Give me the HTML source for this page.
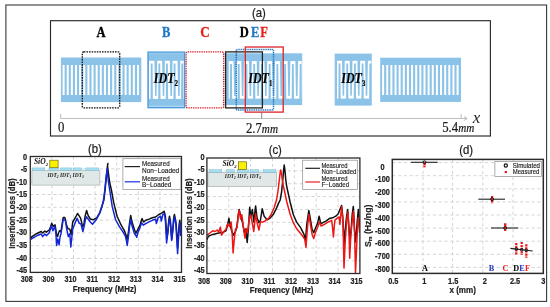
<!DOCTYPE html>
<html lang="en"><head><meta charset="utf-8"><title>Figure</title>
<style>
html,body{margin:0;padding:0;background:#fff;}
body{width:550px;height:307px;overflow:hidden;font-family:"Liberation Sans",sans-serif;}
svg{display:block;filter:blur(0.4px);}
</style></head><body>
<svg width="550" height="307" viewBox="0 0 550 307">
<rect width="550" height="307" fill="#fff"/>
<rect x="5.9" y="5.0" width="540.7" height="296.4" fill="#fff" stroke="#383838" stroke-width="1.1"/>
<text transform="translate(258.9 16.8) scale(0.9 1)" font-family='"Liberation Sans", sans-serif' font-size="12.6" fill="#222" stroke="#222" stroke-width="0.25" text-anchor="middle">(a)</text>
<rect x="50.5" y="20.7" width="439.9" height="115.3" fill="#fff" stroke="#2a2a2a" stroke-width="1.15"/>
<rect x="60.9" y="57.5" width="80.40" height="44.60" fill="#8bc3e8"/>
<path d="M63.60 65.1V94.9M67.73 65.1V94.9M71.87 65.1V94.9M76.00 65.1V94.9M80.13 65.1V94.9M84.27 65.1V94.9M88.40 65.1V94.9M92.53 65.1V94.9M96.67 65.1V94.9M100.80 65.1V94.9M104.93 65.1V94.9M109.07 65.1V94.9M113.20 65.1V94.9M117.33 65.1V94.9M121.47 65.1V94.9M125.60 65.1V94.9M129.73 65.1V94.9M133.87 65.1V94.9M138.00 65.1V94.9" stroke="#fff" stroke-width="2.0" fill="none"/>
<rect x="380.2" y="57.7" width="80.80" height="44.20" fill="#8bc3e8"/>
<path d="M383.10 64.9V94.9M387.24 64.9V94.9M391.38 64.9V94.9M395.52 64.9V94.9M399.66 64.9V94.9M403.79 64.9V94.9M407.93 64.9V94.9M412.07 64.9V94.9M416.21 64.9V94.9M420.35 64.9V94.9M424.49 64.9V94.9M428.63 64.9V94.9M432.77 64.9V94.9M436.91 64.9V94.9M441.04 64.9V94.9M445.18 64.9V94.9M449.32 64.9V94.9M453.46 64.9V94.9M457.60 64.9V94.9" stroke="#fff" stroke-width="2.0" fill="none"/>
<rect x="226" y="53.3" width="76.2" height="51.8" fill="#8bc3e8"/>
<rect x="228.7" y="61.1" width="73.00" height="37.60" fill="#fff"/>
<path d="M229.85 99.2L230.10 63.9H231.90L232.15 99.2ZM237.58 99.2L237.83 63.9H239.63L239.88 99.2ZM245.31 99.2L245.56 63.9H247.36L247.61 99.2ZM253.04 99.2L253.29 63.9H255.09L255.34 99.2ZM260.77 99.2L261.02 63.9H262.82L263.07 99.2ZM268.50 99.2L268.75 63.9H270.55L270.80 99.2ZM276.23 99.2L276.48 63.9H278.28L278.53 99.2ZM283.96 99.2L284.21 63.9H286.01L286.26 99.2ZM291.69 99.2L291.94 63.9H293.74L293.99 99.2ZM299.42 99.2L299.67 63.9H301.47L301.72 99.2ZM233.50 60.6L234.15 95.9H235.65L236.30 60.6ZM241.23 60.6L241.88 95.9H243.38L244.03 60.6ZM248.96 60.6L249.61 95.9H251.11L251.76 60.6ZM256.69 60.6L257.34 95.9H258.84L259.49 60.6ZM264.42 60.6L265.07 95.9H266.57L267.22 60.6ZM272.15 60.6L272.80 95.9H274.30L274.95 60.6ZM279.88 60.6L280.53 95.9H282.03L282.68 60.6ZM287.61 60.6L288.26 95.9H289.76L290.41 60.6ZM295.34 60.6L295.99 95.9H297.49L298.14 60.6Z" fill="#8bc3e8" stroke="none"/>
<rect x="334.7" y="53.6" width="37.1" height="52" fill="#8bc3e8"/>
<rect x="337.0" y="60.8" width="34.20" height="37.80" fill="#fff"/>
<path d="M338.35 99.1L338.60 63.599999999999994H340.40L340.65 99.1ZM346.05 99.1L346.30 63.599999999999994H348.10L348.35 99.1ZM353.75 99.1L354.00 63.599999999999994H355.80L356.05 99.1ZM361.45 99.1L361.70 63.599999999999994H363.50L363.75 99.1ZM369.15 99.1L369.40 63.599999999999994H371.20L371.45 99.1ZM342.00 60.3L342.65 95.8H344.15L344.80 60.3ZM349.70 60.3L350.35 95.8H351.85L352.50 60.3ZM357.40 60.3L358.05 95.8H359.55L360.20 60.3ZM365.10 60.3L365.75 95.8H367.25L367.90 60.3Z" fill="#8bc3e8" stroke="none"/>
<rect x="148.0" y="52.1" width="36.6" height="55.6" fill="#8bc3e8" stroke="#4a98dc" stroke-width="1.3"/>
<rect x="148.7" y="105.7" width="35.2" height="1.3" fill="#a9d7f3"/>
<rect x="148.7" y="52.8" width="35.2" height="0.9" fill="#9dcff0"/>
<rect x="149.0" y="60.8" width="34.70" height="38.10" fill="#fff"/>
<path d="M150.55 99.4L150.80 63.599999999999994H152.60L152.85 99.4ZM158.18 99.4L158.43 63.599999999999994H160.23L160.48 99.4ZM165.81 99.4L166.06 63.599999999999994H167.86L168.11 99.4ZM173.44 99.4L173.69 63.599999999999994H175.49L175.74 99.4ZM181.07 99.4L181.32 63.599999999999994H183.12L183.37 99.4ZM154.40 60.3L155.05 96.10000000000001H156.55L157.20 60.3ZM162.10 60.3L162.75 96.10000000000001H164.25L164.90 60.3ZM169.80 60.3L170.45 96.10000000000001H171.95L172.60 60.3ZM177.50 60.3L178.15 96.10000000000001H179.65L180.30 60.3Z" fill="#8bc3e8" stroke="none"/>
<rect x="82.3" y="51.8" width="37.4" height="56.1" fill="none" stroke="#111" stroke-width="1.3" stroke-dasharray="1.6 1.0" rx="1.5"/>
<rect x="186.1" y="51.9" width="37.6" height="56" fill="none" stroke="#d8222a" stroke-width="1.35" stroke-dasharray="1.4 0.9" rx="1.5"/>
<rect x="236.3" y="49.5" width="37.2" height="60.5" fill="none" stroke="#1c73be" stroke-width="1.5" stroke-dasharray="1.1 0.7" rx="1.2"/>
<rect x="225.6" y="51.9" width="36.8" height="56" fill="none" stroke="#222" stroke-width="1.3"/>
<rect x="245.3" y="47" width="37.9" height="65.1" fill="none" stroke="#dc2228" stroke-width="1.3"/>
<text transform="translate(101.0 36.8) scale(0.86 1)" font-family='"Liberation Serif", serif' font-size="14.6" font-weight="bold" fill="#000" stroke="#000" stroke-width="0.3" text-anchor="middle">A</text>
<text transform="translate(166.3 36.8) scale(0.86 1)" font-family='"Liberation Serif", serif' font-size="14.6" font-weight="bold" fill="#1f78c4" stroke="#1f78c4" stroke-width="0.3" text-anchor="middle">B</text>
<text transform="translate(205.0 36.8) scale(0.9 1)" font-family='"Liberation Serif", serif' font-size="14.6" font-weight="bold" fill="#e3211c" stroke="#e3211c" stroke-width="0.3" text-anchor="middle">C</text>
<text transform="translate(244.3 36.8) scale(0.86 1)" font-family='"Liberation Serif", serif' font-size="14.6" font-weight="bold" fill="#000" stroke="#000" stroke-width="0.3" text-anchor="middle">D</text>
<text transform="translate(255.2 36.8) scale(0.86 1)" font-family='"Liberation Serif", serif' font-size="14.6" font-weight="bold" fill="#1f78c4" stroke="#1f78c4" stroke-width="0.3" text-anchor="middle">E</text>
<text transform="translate(264.0 36.8) scale(0.86 1)" font-family='"Liberation Serif", serif' font-size="14.6" font-weight="bold" fill="#e3211c" stroke="#e3211c" stroke-width="0.3" text-anchor="middle">F</text>
<text transform="translate(153.8 83.2) scale(0.86 1)" font-family='"Liberation Serif", serif' font-size="14" font-weight="bold" font-style="italic" fill="#000" stroke="#000" stroke-width="0.2">IDT<tspan font-size="8" font-style="normal" dy="3.2">2</tspan></text>
<text transform="translate(248.2 83.0) scale(0.86 1)" font-family='"Liberation Serif", serif' font-size="14" font-weight="bold" font-style="italic" fill="#000" stroke="#000" stroke-width="0.2">IDT<tspan font-size="8" font-style="normal" dy="3.2">1</tspan></text>
<text transform="translate(341.2 83.2) scale(0.86 1)" font-family='"Liberation Serif", serif' font-size="14" font-weight="bold" font-style="italic" fill="#000" stroke="#000" stroke-width="0.2">IDT<tspan font-size="8" font-style="normal" dy="3.2">3</tspan></text>
<path d="M60.6 113.9V118.5H467 M461.2 114.2V118.5 M464 116.5L467.2 118.5L464 120.5" stroke="#b8b8b8" stroke-width="0.9" fill="none"/>
<path d="M261.7 112.6V118.5" stroke="#777" stroke-width="0.9" fill="none"/>
<text transform="translate(58.0 131.6) scale(0.9 1)" font-family='"Liberation Serif", serif' font-size="14.2" fill="#1c1c1c" stroke="#1c1c1c" stroke-width="0.22">0</text>
<text transform="translate(245.9 132.6) scale(0.9 1)" font-family='"Liberation Serif", serif' font-size="14.2" fill="#1c1c1c" stroke="#1c1c1c" stroke-width="0.22">2.7<tspan font-style="italic" font-size="12.4">mm</tspan></text>
<text transform="translate(442.2 132.4) scale(0.9 1)" font-family='"Liberation Serif", serif' font-size="14.2" fill="#1c1c1c" stroke="#1c1c1c" stroke-width="0.22">5.4<tspan font-style="italic" font-size="12.4">mm</tspan></text>
<text x="472.7" y="122.5" font-family='"Liberation Serif", serif' font-size="17" font-weight="normal" font-style="italic" fill="#222" text-anchor="start" >x</text>
<rect x="30.3" y="156.5" width="151.20" height="115.90" fill="#fff"/>
<path d="M51.90 156.5V272.4M73.50 156.5V272.4M95.10 156.5V272.4M116.70 156.5V272.4M138.30 156.5V272.4M159.90 156.5V272.4M30.3 168.90H181.5M30.3 181.70H181.5M30.3 194.50H181.5M30.3 207.30H181.5M30.3 220.10H181.5M30.3 232.90H181.5M30.3 245.70H181.5M30.3 258.50H181.5" stroke="#c9c9c9" stroke-width="0.8" stroke-dasharray="3.1 2.7" fill="none"/>
<g clip-path="url(#clipb)"><path d="M30.2 238.4 L32.0 236.6 L35.3 234.4 L38.0 233.0 L41.2 231.5 L42.7 233.0 L44.8 231.0 L46.3 232.2 L49.2 230.0 L50.5 227.0 L51.7 223.2 L53.2 226.4 L55.1 224.9 L56.6 235.2 L57.6 236.5 L58.5 233.0 L59.5 230.8 L61.0 231.5 L62.0 225.0 L63.2 217.6 L64.9 217.6 L66.4 224.9 L67.9 228.6 L69.8 229.3 L71.2 234.5 L72.0 228.0 L72.7 222.0 L74.9 218.3 L76.2 216.0 L77.5 213.5 L79.3 216.1 L80.7 218.3 L82.5 226.4 L83.8 225.0 L85.1 216.1 L86.6 210.5 L88.1 215.4 L90.3 219.0 L93.2 219.8 L96.9 217.6 L99.8 212.5 L102.0 205.9 L103.9 200.0 L105.3 188.0 L106.6 174.0 L107.6 165.0 L107.9 163.6 L107.5 166.0 L108.5 174.0 L109.8 183.0 L111.4 190.0 L113.8 203.1 L117.1 216.2 L121.2 225.2 L124.5 230.9 L126.0 235.0 L126.9 239.7 L127.8 236.0 L128.6 230.9 L129.7 222.0 L130.7 215.4 L131.4 219.0 L132.3 222.7 L134.3 229.3 L135.9 233.2 L137.0 231.0 L137.9 229.3 L140.0 225.2 L141.2 221.0 L142.1 218.6 L143.0 221.0 L143.8 221.9 L145.7 220.3 L149.0 219.1 L152.3 217.8 L155.6 217.0 L158.8 214.5 L162.1 212.9 L164.1 211.3 L165.4 216.2 L166.4 230.0 L167.0 238.5 L167.9 232.0 L168.8 220.0 L169.5 216.2 L170.6 222.7 L171.4 234.0 L171.9 239.0 L172.8 230.0 L173.7 218.0 L174.4 214.5 L176.0 222.7 L177.0 236.0 L177.6 248.0 L178.4 236.0 L179.2 224.0 L179.8 220.3 L180.8 232.0" stroke="#111" stroke-width="1.5" fill="none" stroke-linejoin="round"/></g>
<g clip-path="url(#clipb)"><path d="M30.2 239.9 L32.0 238.5 L35.3 236.6 L38.0 235.2 L41.2 234.0 L42.7 236.6 L44.8 234.0 L46.3 235.6 L49.2 233.0 L50.4 229.0 L51.4 225.6 L52.9 230.8 L54.8 226.4 L55.8 232.0 L56.6 245.5 L57.8 239.0 L59.1 244.8 L60.0 237.0 L61.0 233.7 L62.2 226.0 L63.2 219.0 L65.4 220.5 L66.8 229.3 L68.3 236.6 L69.8 233.7 L70.8 247.0 L71.8 238.0 L72.7 229.3 L74.9 223.4 L77.1 218.3 L79.3 223.4 L81.0 224.0 L82.9 231.5 L84.2 226.0 L85.3 220.0 L86.6 216.8 L88.1 219.0 L90.3 222.0 L92.5 224.2 L96.1 219.8 L99.8 213.2 L102.0 206.6 L103.5 200.0 L104.8 190.0 L106.0 178.0 L107.0 170.0 L107.4 168.7 L107.1 171.0 L108.0 178.0 L108.9 185.0 L109.7 190.0 L112.2 206.4 L115.5 219.5 L119.5 226.8 L122.8 231.7 L125.5 236.5 L126.5 241.0 L127.2 245.5 L128.0 240.0 L129.4 227.6 L130.7 219.5 L132.3 226.8 L134.3 233.4 L136.2 236.0 L136.7 237.3 L137.9 232.6 L140.0 227.6 L141.6 222.7 L143.3 225.2 L145.7 223.6 L149.0 221.9 L152.3 220.3 L155.6 219.1 L156.4 223.6 L158.0 217.8 L160.5 216.2 L161.3 221.1 L162.9 214.5 L164.6 213.7 L165.5 222.0 L166.2 236.0 L166.6 243.0 L167.5 235.0 L168.8 222.0 L169.8 218.6 L170.7 228.0 L171.6 240.5 L172.6 232.0 L173.8 220.0 L174.7 217.0 L176.0 226.0 L177.0 243.0 L177.6 253.6 L178.4 240.0 L179.3 226.0 L180.0 222.7 L180.8 236.0" stroke="#1226d8" stroke-width="1.5" fill="none" stroke-linejoin="round"/></g>
<clipPath id="clipb"><rect x="30.3" y="156.5" width="151.20" height="115.90"/></clipPath>
<rect x="31.9" y="170.7" width="68.00" height="14.40" fill="#dfe8e6" stroke="#9aa5a3" stroke-width="0.6"/>
<rect x="32.3" y="167.9" width="12.50" height="2.80" fill="#a6ddf0" stroke="#6fb3cf" stroke-width="0.4"/>
<rect x="49.2" y="167.9" width="9.30" height="2.80" fill="#a6ddf0" stroke="#6fb3cf" stroke-width="0.4"/>
<rect x="60.5" y="167.9" width="11.10" height="2.80" fill="#a6ddf0" stroke="#6fb3cf" stroke-width="0.4"/>
<rect x="73.3" y="167.9" width="8.40" height="2.80" fill="#a6ddf0" stroke="#6fb3cf" stroke-width="0.4"/>
<rect x="85.8" y="167.9" width="13.10" height="2.80" fill="#a6ddf0" stroke="#6fb3cf" stroke-width="0.4"/>
<rect x="49.8" y="160.2" width="8.30" height="7.50" fill="#fbf000" stroke="#6d6a12" stroke-width="0.7"/>
<text x="33.9" y="164.4" font-family='"Liberation Serif", serif' font-size="7.6" font-weight="bold" font-style="italic" fill="#111">SiO<tspan font-size="4.6" dy="1.4">2</tspan></text>
<text x="47.4" y="176.5" font-family='"Liberation Serif", serif' font-size="5.6" font-weight="bold" font-style="italic" fill="#222" textLength="36.4" lengthAdjust="spacingAndGlyphs">IDT<tspan font-size="3.6" dy="1">2</tspan><tspan dy="-1"> IDT</tspan><tspan font-size="3.6" dy="1">1</tspan><tspan dy="-1"> IDT</tspan><tspan font-size="3.6" dy="1">3</tspan></text>
<rect x="122.9" y="158.7" width="58.10" height="30.80" fill="#fff" stroke="#8a8a8a" stroke-width="0.7"/>
<path d="M124.7 166.6H140" stroke="#222" stroke-width="1.2"/>
<path d="M124.7 181.8H140" stroke="#1a2fe0" stroke-width="1.2"/>
<text x="142.0" y="166.3" font-family='"Liberation Sans", sans-serif' font-size="6.6" font-weight="normal" font-style="normal" fill="#222" text-anchor="start" textLength="27.6" lengthAdjust="spacingAndGlyphs" stroke="#222" stroke-width="0.15">Measured</text>
<text x="142.0" y="172.9" font-family='"Liberation Sans", sans-serif' font-size="6.6" font-weight="normal" font-style="normal" fill="#222" text-anchor="start" textLength="37.2" lengthAdjust="spacingAndGlyphs" stroke="#222" stroke-width="0.15">Non−Loaded</text>
<text x="142.0" y="180.5" font-family='"Liberation Sans", sans-serif' font-size="6.6" font-weight="normal" font-style="normal" fill="#222" text-anchor="start" textLength="27.6" lengthAdjust="spacingAndGlyphs" stroke="#222" stroke-width="0.15">Measured</text>
<text x="142.0" y="187.3" font-family='"Liberation Sans", sans-serif' font-size="6.6" font-weight="normal" font-style="normal" fill="#222" text-anchor="start" textLength="29.4" lengthAdjust="spacingAndGlyphs" stroke="#222" stroke-width="0.15">B−Loaded</text>
<rect x="30.3" y="156.5" width="151.20" height="115.90" fill="none" stroke="#2b2b2b" stroke-width="1.3"/>
<text transform="translate(27.2 160.20) scale(0.9 1)" font-family='"Liberation Sans", sans-serif' font-size="8.2" font-weight="bold" fill="#222" stroke="#222" stroke-width="0.2" text-anchor="end">0</text>
<text transform="translate(27.2 172.04) scale(0.9 1)" font-family='"Liberation Sans", sans-serif' font-size="8.2" font-weight="bold" fill="#222" stroke="#222" stroke-width="0.2" text-anchor="end">-5</text>
<text transform="translate(27.2 184.68) scale(0.9 1)" font-family='"Liberation Sans", sans-serif' font-size="8.2" font-weight="bold" fill="#222" stroke="#222" stroke-width="0.2" text-anchor="end">-10</text>
<text transform="translate(27.2 197.32) scale(0.9 1)" font-family='"Liberation Sans", sans-serif' font-size="8.2" font-weight="bold" fill="#222" stroke="#222" stroke-width="0.2" text-anchor="end">-15</text>
<text transform="translate(27.2 209.96) scale(0.9 1)" font-family='"Liberation Sans", sans-serif' font-size="8.2" font-weight="bold" fill="#222" stroke="#222" stroke-width="0.2" text-anchor="end">-20</text>
<text transform="translate(27.2 222.60) scale(0.9 1)" font-family='"Liberation Sans", sans-serif' font-size="8.2" font-weight="bold" fill="#222" stroke="#222" stroke-width="0.2" text-anchor="end">-25</text>
<text transform="translate(27.2 235.24) scale(0.9 1)" font-family='"Liberation Sans", sans-serif' font-size="8.2" font-weight="bold" fill="#222" stroke="#222" stroke-width="0.2" text-anchor="end">-30</text>
<text transform="translate(27.2 247.88) scale(0.9 1)" font-family='"Liberation Sans", sans-serif' font-size="8.2" font-weight="bold" fill="#222" stroke="#222" stroke-width="0.2" text-anchor="end">-35</text>
<text transform="translate(27.2 260.52) scale(0.9 1)" font-family='"Liberation Sans", sans-serif' font-size="8.2" font-weight="bold" fill="#222" stroke="#222" stroke-width="0.2" text-anchor="end">-40</text>
<text transform="translate(27.2 273.16) scale(0.9 1)" font-family='"Liberation Sans", sans-serif' font-size="8.2" font-weight="bold" fill="#222" stroke="#222" stroke-width="0.2" text-anchor="end">-45</text>
<text transform="translate(26.8 282.3) scale(0.88 1)" font-family='"Liberation Sans", sans-serif' font-size="8.2" font-weight="bold" fill="#222" stroke="#222" stroke-width="0.2" text-anchor="middle">308</text>
<text transform="translate(48.6 282.3) scale(0.88 1)" font-family='"Liberation Sans", sans-serif' font-size="8.2" font-weight="bold" fill="#222" stroke="#222" stroke-width="0.2" text-anchor="middle">309</text>
<text transform="translate(70.4 282.3) scale(0.88 1)" font-family='"Liberation Sans", sans-serif' font-size="8.2" font-weight="bold" fill="#222" stroke="#222" stroke-width="0.2" text-anchor="middle">310</text>
<text transform="translate(92.2 282.3) scale(0.88 1)" font-family='"Liberation Sans", sans-serif' font-size="8.2" font-weight="bold" fill="#222" stroke="#222" stroke-width="0.2" text-anchor="middle">311</text>
<text transform="translate(114.0 282.3) scale(0.88 1)" font-family='"Liberation Sans", sans-serif' font-size="8.2" font-weight="bold" fill="#222" stroke="#222" stroke-width="0.2" text-anchor="middle">312</text>
<text transform="translate(135.8 282.3) scale(0.88 1)" font-family='"Liberation Sans", sans-serif' font-size="8.2" font-weight="bold" fill="#222" stroke="#222" stroke-width="0.2" text-anchor="middle">313</text>
<text transform="translate(157.6 282.3) scale(0.88 1)" font-family='"Liberation Sans", sans-serif' font-size="8.2" font-weight="bold" fill="#222" stroke="#222" stroke-width="0.2" text-anchor="middle">314</text>
<text transform="translate(179.4 282.3) scale(0.88 1)" font-family='"Liberation Sans", sans-serif' font-size="8.2" font-weight="bold" fill="#222" stroke="#222" stroke-width="0.2" text-anchor="middle">315</text>
<text x="72.7" y="292.0" font-family='"Liberation Sans", sans-serif' font-size="8.8" font-weight="bold" font-style="normal" fill="#222" text-anchor="start" textLength="63.8" lengthAdjust="spacingAndGlyphs" stroke="#222" stroke-width="0.2">Frequency (MHz)</text>
<text transform="translate(14.9 248.8) rotate(-90)" font-family='"Liberation Sans", sans-serif' font-size="8.8" font-weight="bold" fill="#222" stroke="#222" stroke-width="0.2" textLength="70.4" lengthAdjust="spacingAndGlyphs">Insertion Loss (dB)</text>
<text transform="translate(94.9 153.2) scale(0.9 1)" font-family='"Liberation Sans", sans-serif' font-size="12.6" fill="#222" stroke="#222" stroke-width="0.25" text-anchor="middle">(b)</text>
<rect x="206.9" y="158.0" width="153.00" height="115.50" fill="#fff"/>
<path d="M228.76 158.0V273.5M250.61 158.0V273.5M272.47 158.0V273.5M294.33 158.0V273.5M316.19 158.0V273.5M338.04 158.0V273.5M206.9 170.86H359.9M206.9 183.72H359.9M206.9 196.58H359.9M206.9 209.44H359.9M206.9 222.30H359.9M206.9 235.16H359.9M206.9 248.02H359.9M206.9 260.88H359.9" stroke="#c9c9c9" stroke-width="0.8" stroke-dasharray="3.1 2.7" fill="none"/>
<g clip-path="url(#clipc)"><path d="M206.9 239.6 L208.0 237.0 L209.1 235.9 L212.8 234.4 L218.7 233.0 L223.0 232.2 L226.0 230.8 L227.6 225.0 L228.9 218.3 L230.4 226.4 L231.8 231.0 L233.3 235.2 L235.5 231.5 L237.0 226.0 L238.2 215.0 L239.2 209.5 L240.9 217.6 L242.4 222.0 L244.3 232.2 L245.8 229.0 L247.2 242.5 L248.4 229.0 L249.7 207.3 L250.9 216.1 L252.4 209.5 L253.8 222.0 L255.6 205.9 L257.0 217.6 L258.9 222.7 L260.4 220.5 L262.2 208.8 L264.1 216.1 L267.0 219.8 L269.9 218.3 L273.6 213.9 L276.5 208.1 L278.7 202.9 L280.2 200.0 L281.6 192.0 L282.8 180.0 L283.7 169.0 L284.2 165.0 L284.8 169.0 L285.8 180.0 L286.6 186.0 L287.5 190.0 L290.0 201.5 L293.3 214.5 L296.5 221.9 L300.6 227.6 L303.9 234.2 L305.5 240.3 L306.7 225.2 L308.8 210.5 L310.0 217.0 L312.1 229.3 L313.7 232.8 L315.4 228.2 L317.5 223.6 L319.1 216.2 L320.8 223.6 L322.8 222.7 L326.0 221.1 L329.3 218.6 L332.6 217.8 L335.8 216.2 L338.3 213.7 L339.9 209.6 L341.6 205.5 L342.7 216.0 L343.5 232.0 L344.0 245.0 L345.0 232.0 L346.4 218.0 L347.6 209.6 L349.2 231.0 L350.2 240.0 L351.2 228.0 L352.2 214.5 L353.3 206.4 L354.6 231.0 L355.5 242.0 L356.4 232.0 L357.1 222.7 L358.3 209.6 L359.6 226.0" stroke="#111" stroke-width="1.5" fill="none" stroke-linejoin="round"/></g>
<g clip-path="url(#clipc)"><path d="M206.9 235.2 L209.9 233.0 L212.8 230.8 L215.0 231.5 L217.2 230.0 L218.7 232.2 L220.4 227.1 L221.6 235.2 L223.8 231.5 L226.0 229.3 L227.4 224.2 L229.6 226.4 L231.1 222.0 L232.1 232.0 L233.1 253.0 L234.2 240.0 L235.5 229.3 L237.0 227.8 L238.2 216.0 L239.2 210.3 L240.6 219.0 L241.8 214.7 L243.3 226.4 L245.0 238.1 L246.2 228.6 L247.7 232.2 L249.1 219.0 L250.6 214.7 L252.1 222.0 L253.8 231.5 L255.6 213.9 L257.0 222.0 L258.9 230.0 L260.4 222.0 L262.6 222.0 L264.8 221.2 L268.5 218.3 L271.4 213.9 L274.3 207.3 L276.5 200.0 L278.0 191.0 L279.3 180.0 L280.3 171.5 L280.7 170.0 L281.3 172.5 L282.3 180.0 L283.3 186.0 L284.3 190.0 L286.7 201.5 L290.0 213.7 L293.3 222.7 L296.5 228.5 L300.6 233.4 L304.7 239.0 L306.0 247.3 L307.2 230.9 L308.8 214.5 L310.4 224.4 L312.1 234.2 L313.7 238.6 L315.4 232.6 L317.8 226.8 L319.5 221.9 L321.1 226.0 L324.4 224.4 L328.5 221.9 L331.7 220.3 L332.6 228.0 L333.4 237.0 L334.3 226.0 L334.9 220.3 L336.6 218.6 L339.1 217.0 L339.9 224.4 L341.6 206.4 L343.0 222.7 L344.0 268.1 L345.3 240.0 L346.8 219.5 L348.1 212.1 L349.0 232.6 L349.7 258.3 L350.8 236.0 L352.5 217.8 L353.5 211.3 L354.6 232.6 L355.5 273.0 L356.5 250.0 L357.4 227.6 L358.3 217.8 L359.6 233.0" stroke="#ee1515" stroke-width="1.5" fill="none" stroke-linejoin="round"/></g>
<clipPath id="clipc"><rect x="206.9" y="158.0" width="153.00" height="115.50"/></clipPath>
<rect x="207.9" y="172.3" width="68.60" height="14.10" fill="#dfe8e6" stroke="#9aa5a3" stroke-width="0.6"/>
<rect x="209.7" y="169.7" width="12.10" height="2.60" fill="#a6ddf0" stroke="#6fb3cf" stroke-width="0.4"/>
<rect x="226.8" y="169.7" width="7.70" height="2.60" fill="#a6ddf0" stroke="#6fb3cf" stroke-width="0.4"/>
<rect x="237.5" y="169.7" width="11.10" height="2.60" fill="#a6ddf0" stroke="#6fb3cf" stroke-width="0.4"/>
<rect x="250.6" y="169.7" width="8.10" height="2.60" fill="#a6ddf0" stroke="#6fb3cf" stroke-width="0.4"/>
<rect x="263.1" y="169.7" width="12.80" height="2.60" fill="#a6ddf0" stroke="#6fb3cf" stroke-width="0.4"/>
<rect x="238.5" y="161.8" width="8.10" height="7.70" fill="#fbf000" stroke="#6d6a12" stroke-width="0.7"/>
<text x="222.4" y="166.3" font-family='"Liberation Serif", serif' font-size="7.6" font-weight="bold" font-style="italic" fill="#111">SiO<tspan font-size="4.6" dy="1.4">2</tspan></text>
<text x="224.8" y="178.0" font-family='"Liberation Serif", serif' font-size="5.6" font-weight="bold" font-style="italic" fill="#222" textLength="35.9" lengthAdjust="spacingAndGlyphs">IDT<tspan font-size="3.6" dy="1">2</tspan><tspan dy="-1"> IDT</tspan><tspan font-size="3.6" dy="1">1</tspan><tspan dy="-1"> IDT</tspan><tspan font-size="3.6" dy="1">3</tspan></text>
<rect x="302.7" y="160.2" width="54.60" height="29.30" fill="#fff" stroke="#8a8a8a" stroke-width="0.7"/>
<path d="M305.3 168.3H320" stroke="#222" stroke-width="1.2"/>
<path d="M305.3 182.0H320" stroke="#f02020" stroke-width="1.2"/>
<text x="321.5" y="167.7" font-family='"Liberation Sans", sans-serif' font-size="6.6" font-weight="normal" font-style="normal" fill="#222" text-anchor="start" textLength="26.0" lengthAdjust="spacingAndGlyphs" stroke="#222" stroke-width="0.15">Measured</text>
<text x="321.5" y="173.9" font-family='"Liberation Sans", sans-serif' font-size="6.6" font-weight="normal" font-style="normal" fill="#222" text-anchor="start" textLength="35.0" lengthAdjust="spacingAndGlyphs" stroke="#222" stroke-width="0.15">Non−Loaded</text>
<text x="321.5" y="180.6" font-family='"Liberation Sans", sans-serif' font-size="6.6" font-weight="normal" font-style="normal" fill="#222" text-anchor="start" textLength="26.0" lengthAdjust="spacingAndGlyphs" stroke="#222" stroke-width="0.15">Measured</text>
<text x="321.5" y="187.0" font-family='"Liberation Sans", sans-serif' font-size="6.6" font-weight="normal" font-style="normal" fill="#222" text-anchor="start" textLength="27.6" lengthAdjust="spacingAndGlyphs" stroke="#222" stroke-width="0.15">F−Loaded</text>
<rect x="206.9" y="158.0" width="153.00" height="115.50" fill="none" stroke="#2b2b2b" stroke-width="1.3"/>
<text transform="translate(204.6 160.20) scale(0.9 1)" font-family='"Liberation Sans", sans-serif' font-size="8.2" font-weight="bold" fill="#222" stroke="#222" stroke-width="0.2" text-anchor="end">0</text>
<text transform="translate(204.6 172.04) scale(0.9 1)" font-family='"Liberation Sans", sans-serif' font-size="8.2" font-weight="bold" fill="#222" stroke="#222" stroke-width="0.2" text-anchor="end">-5</text>
<text transform="translate(204.6 184.68) scale(0.9 1)" font-family='"Liberation Sans", sans-serif' font-size="8.2" font-weight="bold" fill="#222" stroke="#222" stroke-width="0.2" text-anchor="end">-10</text>
<text transform="translate(204.6 197.32) scale(0.9 1)" font-family='"Liberation Sans", sans-serif' font-size="8.2" font-weight="bold" fill="#222" stroke="#222" stroke-width="0.2" text-anchor="end">-15</text>
<text transform="translate(204.6 209.96) scale(0.9 1)" font-family='"Liberation Sans", sans-serif' font-size="8.2" font-weight="bold" fill="#222" stroke="#222" stroke-width="0.2" text-anchor="end">-20</text>
<text transform="translate(204.6 222.60) scale(0.9 1)" font-family='"Liberation Sans", sans-serif' font-size="8.2" font-weight="bold" fill="#222" stroke="#222" stroke-width="0.2" text-anchor="end">-25</text>
<text transform="translate(204.6 235.24) scale(0.9 1)" font-family='"Liberation Sans", sans-serif' font-size="8.2" font-weight="bold" fill="#222" stroke="#222" stroke-width="0.2" text-anchor="end">-30</text>
<text transform="translate(204.6 247.88) scale(0.9 1)" font-family='"Liberation Sans", sans-serif' font-size="8.2" font-weight="bold" fill="#222" stroke="#222" stroke-width="0.2" text-anchor="end">-35</text>
<text transform="translate(204.6 260.52) scale(0.9 1)" font-family='"Liberation Sans", sans-serif' font-size="8.2" font-weight="bold" fill="#222" stroke="#222" stroke-width="0.2" text-anchor="end">-40</text>
<text transform="translate(204.6 273.16) scale(0.9 1)" font-family='"Liberation Sans", sans-serif' font-size="8.2" font-weight="bold" fill="#222" stroke="#222" stroke-width="0.2" text-anchor="end">-45</text>
<text transform="translate(204.1 283.7) scale(0.88 1)" font-family='"Liberation Sans", sans-serif' font-size="8.2" font-weight="bold" fill="#222" stroke="#222" stroke-width="0.2" text-anchor="middle">308</text>
<text transform="translate(225.8 283.7) scale(0.88 1)" font-family='"Liberation Sans", sans-serif' font-size="8.2" font-weight="bold" fill="#222" stroke="#222" stroke-width="0.2" text-anchor="middle">309</text>
<text transform="translate(247.6 283.7) scale(0.88 1)" font-family='"Liberation Sans", sans-serif' font-size="8.2" font-weight="bold" fill="#222" stroke="#222" stroke-width="0.2" text-anchor="middle">310</text>
<text transform="translate(269.4 283.7) scale(0.88 1)" font-family='"Liberation Sans", sans-serif' font-size="8.2" font-weight="bold" fill="#222" stroke="#222" stroke-width="0.2" text-anchor="middle">311</text>
<text transform="translate(291.1 283.7) scale(0.88 1)" font-family='"Liberation Sans", sans-serif' font-size="8.2" font-weight="bold" fill="#222" stroke="#222" stroke-width="0.2" text-anchor="middle">312</text>
<text transform="translate(312.9 283.7) scale(0.88 1)" font-family='"Liberation Sans", sans-serif' font-size="8.2" font-weight="bold" fill="#222" stroke="#222" stroke-width="0.2" text-anchor="middle">313</text>
<text transform="translate(334.6 283.7) scale(0.88 1)" font-family='"Liberation Sans", sans-serif' font-size="8.2" font-weight="bold" fill="#222" stroke="#222" stroke-width="0.2" text-anchor="middle">314</text>
<text transform="translate(356.4 283.7) scale(0.88 1)" font-family='"Liberation Sans", sans-serif' font-size="8.2" font-weight="bold" fill="#222" stroke="#222" stroke-width="0.2" text-anchor="middle">315</text>
<text x="249.7" y="293.4" font-family='"Liberation Sans", sans-serif' font-size="8.8" font-weight="bold" font-style="normal" fill="#222" text-anchor="start" textLength="63.8" lengthAdjust="spacingAndGlyphs" stroke="#222" stroke-width="0.2">Frequency (MHz)</text>
<text transform="translate(192.2 248.8) rotate(-90)" font-family='"Liberation Sans", sans-serif' font-size="8.8" font-weight="bold" fill="#222" stroke="#222" stroke-width="0.2" textLength="70.4" lengthAdjust="spacingAndGlyphs">Insertion Loss (dB)</text>
<text transform="translate(275.3 154.0) scale(0.9 1)" font-family='"Liberation Sans", sans-serif' font-size="12.6" fill="#222" stroke="#222" stroke-width="0.25" text-anchor="middle">(c)</text>
<rect x="392.3" y="159.4" width="151.00" height="114.00" fill="#fff"/>
<path d="M423 159.4V273.4M452.6 159.4V273.4M482.8 159.4V273.4M513 159.4V273.4M392.3 162.60H543.3M392.3 175.70H543.3M392.3 188.80H543.3M392.3 201.90H543.3M392.3 215.00H543.3M392.3 228.10H543.3M392.3 241.20H543.3M392.3 254.30H543.3M392.3 267.40H543.3" stroke="#c9c9c9" stroke-width="0.8" stroke-dasharray="3.1 2.7" fill="none"/>
<rect x="494.9" y="161.4" width="46.4" height="15.1" fill="#fff" stroke="#8a8a8a" stroke-width="0.7"/>
<circle cx="505.8" cy="165.5" r="1.6" fill="none" stroke="#111" stroke-width="1.2"/>
<rect x="504.7" y="171.0" width="2.2" height="2.2" fill="#f01818"/>
<text x="512.8" y="167.6" font-family='"Liberation Sans", sans-serif' font-size="6.6" font-weight="normal" font-style="normal" fill="#222" text-anchor="start" textLength="27.2" lengthAdjust="spacingAndGlyphs" stroke="#222" stroke-width="0.15">Simulated</text>
<text x="512.8" y="174.2" font-family='"Liberation Sans", sans-serif' font-size="6.6" font-weight="normal" font-style="normal" fill="#222" text-anchor="start" textLength="26.6" lengthAdjust="spacingAndGlyphs" stroke="#222" stroke-width="0.15">Measured</text>
<path d="M410.9 162.3L437.7 162.3" stroke="#222" stroke-width="1.1"/>
<path d="M424.5 162.3V167.2" stroke="#f01818" stroke-width="2.3" stroke-dasharray="2.6 0.6"/>
<circle cx="424.5" cy="162.3" r="1.5" fill="none" stroke="#111" stroke-width="0.9"/>
<path d="M478.3 199.2L505 199.2" stroke="#222" stroke-width="1.1"/>
<path d="M492.1 196.1V203.2" stroke="#f01818" stroke-width="2.3" stroke-dasharray="2.6 0.6"/>
<circle cx="492.1" cy="199.2" r="1.5" fill="none" stroke="#111" stroke-width="0.9"/>
<path d="M491.1 228.0L518.3 228.0" stroke="#222" stroke-width="1.1"/>
<path d="M505.2 223.3V231.0" stroke="#f01818" stroke-width="2.3" stroke-dasharray="2.6 0.6"/>
<circle cx="505.2" cy="228.0" r="1.5" fill="none" stroke="#111" stroke-width="0.9"/>
<path d="M516.3 243.0V254.4" stroke="#f01818" stroke-width="2.3" stroke-dasharray="2.2 0.9"/>
<path d="M521.7 241.9V255.0" stroke="#f01818" stroke-width="2.3" stroke-dasharray="2.2 0.9"/>
<path d="M526.3 244.2V257.8" stroke="#f01818" stroke-width="2.3" stroke-dasharray="2.2 0.9"/>
<path d="M510.4 248.3L532.7 251.0" stroke="#222" stroke-width="1.2"/>
<circle cx="516.3" cy="249.0" r="1.3" fill="none" stroke="#111" stroke-width="0.9"/>
<circle cx="521.7" cy="249.7" r="1.3" fill="none" stroke="#111" stroke-width="0.9"/>
<circle cx="526.3" cy="250.3" r="1.3" fill="none" stroke="#111" stroke-width="0.9"/>
<text x="425" y="271" font-family='"Liberation Serif", serif' font-size="8.2" font-weight="bold" font-style="normal" fill="#000" text-anchor="middle" >A</text>
<text x="491.6" y="270.5" font-family='"Liberation Serif", serif' font-size="8.2" font-weight="bold" font-style="normal" fill="#2a35c0" text-anchor="middle" >B</text>
<text x="505.5" y="270.5" font-family='"Liberation Serif", serif' font-size="8.2" font-weight="bold" font-style="normal" fill="#ee1c1c" text-anchor="middle" >C</text>
<text x="516.2" y="270.5" font-family='"Liberation Serif", serif' font-size="8.2" font-weight="bold" font-style="normal" fill="#000" text-anchor="middle" >D</text>
<text x="522.0" y="270.5" font-family='"Liberation Serif", serif' font-size="8.2" font-weight="bold" font-style="normal" fill="#2a35c0" text-anchor="middle" >E</text>
<text x="527.6" y="270.5" font-family='"Liberation Serif", serif' font-size="8.2" font-weight="bold" font-style="normal" fill="#ee1c1c" text-anchor="middle" >F</text>
<rect x="392.3" y="159.4" width="151.00" height="114.00" fill="none" stroke="#2b2b2b" stroke-width="1.5"/>
<text transform="translate(382.5 169.50) scale(0.9 1)" font-family='"Liberation Sans", sans-serif' font-size="8.2" font-weight="bold" fill="#222" stroke="#222" stroke-width="0.2" text-anchor="middle">0</text>
<text transform="translate(382.5 182.33) scale(0.9 1)" font-family='"Liberation Sans", sans-serif' font-size="8.2" font-weight="bold" fill="#222" stroke="#222" stroke-width="0.2" text-anchor="middle">-100</text>
<text transform="translate(382.5 195.16) scale(0.9 1)" font-family='"Liberation Sans", sans-serif' font-size="8.2" font-weight="bold" fill="#222" stroke="#222" stroke-width="0.2" text-anchor="middle">-200</text>
<text transform="translate(382.5 207.99) scale(0.9 1)" font-family='"Liberation Sans", sans-serif' font-size="8.2" font-weight="bold" fill="#222" stroke="#222" stroke-width="0.2" text-anchor="middle">-300</text>
<text transform="translate(382.5 220.82) scale(0.9 1)" font-family='"Liberation Sans", sans-serif' font-size="8.2" font-weight="bold" fill="#222" stroke="#222" stroke-width="0.2" text-anchor="middle">-400</text>
<text transform="translate(382.5 233.65) scale(0.9 1)" font-family='"Liberation Sans", sans-serif' font-size="8.2" font-weight="bold" fill="#222" stroke="#222" stroke-width="0.2" text-anchor="middle">-500</text>
<text transform="translate(382.5 246.48) scale(0.9 1)" font-family='"Liberation Sans", sans-serif' font-size="8.2" font-weight="bold" fill="#222" stroke="#222" stroke-width="0.2" text-anchor="middle">-600</text>
<text transform="translate(382.5 259.31) scale(0.9 1)" font-family='"Liberation Sans", sans-serif' font-size="8.2" font-weight="bold" fill="#222" stroke="#222" stroke-width="0.2" text-anchor="middle">-700</text>
<text transform="translate(382.5 272.14) scale(0.9 1)" font-family='"Liberation Sans", sans-serif' font-size="8.2" font-weight="bold" fill="#222" stroke="#222" stroke-width="0.2" text-anchor="middle">-800</text>
<text transform="translate(393.3 283.8) scale(0.9 1)" font-family='"Liberation Sans", sans-serif' font-size="8.2" font-weight="bold" fill="#222" stroke="#222" stroke-width="0.2" text-anchor="middle">0.5</text>
<text transform="translate(424.2 283.8) scale(0.9 1)" font-family='"Liberation Sans", sans-serif' font-size="8.2" font-weight="bold" fill="#222" stroke="#222" stroke-width="0.2" text-anchor="middle">1</text>
<text transform="translate(453.2 283.8) scale(0.9 1)" font-family='"Liberation Sans", sans-serif' font-size="8.2" font-weight="bold" fill="#222" stroke="#222" stroke-width="0.2" text-anchor="middle">1.5</text>
<text transform="translate(484.8 283.8) scale(0.9 1)" font-family='"Liberation Sans", sans-serif' font-size="8.2" font-weight="bold" fill="#222" stroke="#222" stroke-width="0.2" text-anchor="middle">2</text>
<text transform="translate(515.1 283.8) scale(0.9 1)" font-family='"Liberation Sans", sans-serif' font-size="8.2" font-weight="bold" fill="#222" stroke="#222" stroke-width="0.2" text-anchor="middle">2.5</text>
<text transform="translate(543.3 283.8) scale(0.9 1)" font-family='"Liberation Sans", sans-serif' font-size="8.2" font-weight="bold" fill="#222" stroke="#222" stroke-width="0.2" text-anchor="middle">3</text>
<text x="449.4" y="293.3" font-family='"Liberation Sans", sans-serif' font-size="8.8" font-weight="bold" font-style="normal" fill="#222" text-anchor="start" textLength="26.5" lengthAdjust="spacingAndGlyphs" stroke="#222" stroke-width="0.2">x (mm)</text>
<text transform="translate(371.2 247) rotate(-90)" font-family='"Liberation Sans", sans-serif' font-size="8.3" font-weight="bold" fill="#222" stroke="#222" stroke-width="0.15" textLength="42.4" lengthAdjust="spacingAndGlyphs">S<tspan font-size="5" dy="1.2">m</tspan><tspan dy="-1.2"> (Hz/ng)</tspan></text>
<text transform="translate(466.2 154.0) scale(0.9 1)" font-family='"Liberation Sans", sans-serif' font-size="12.6" fill="#222" stroke="#222" stroke-width="0.25" text-anchor="middle">(d)</text>
</svg>
</body></html>
